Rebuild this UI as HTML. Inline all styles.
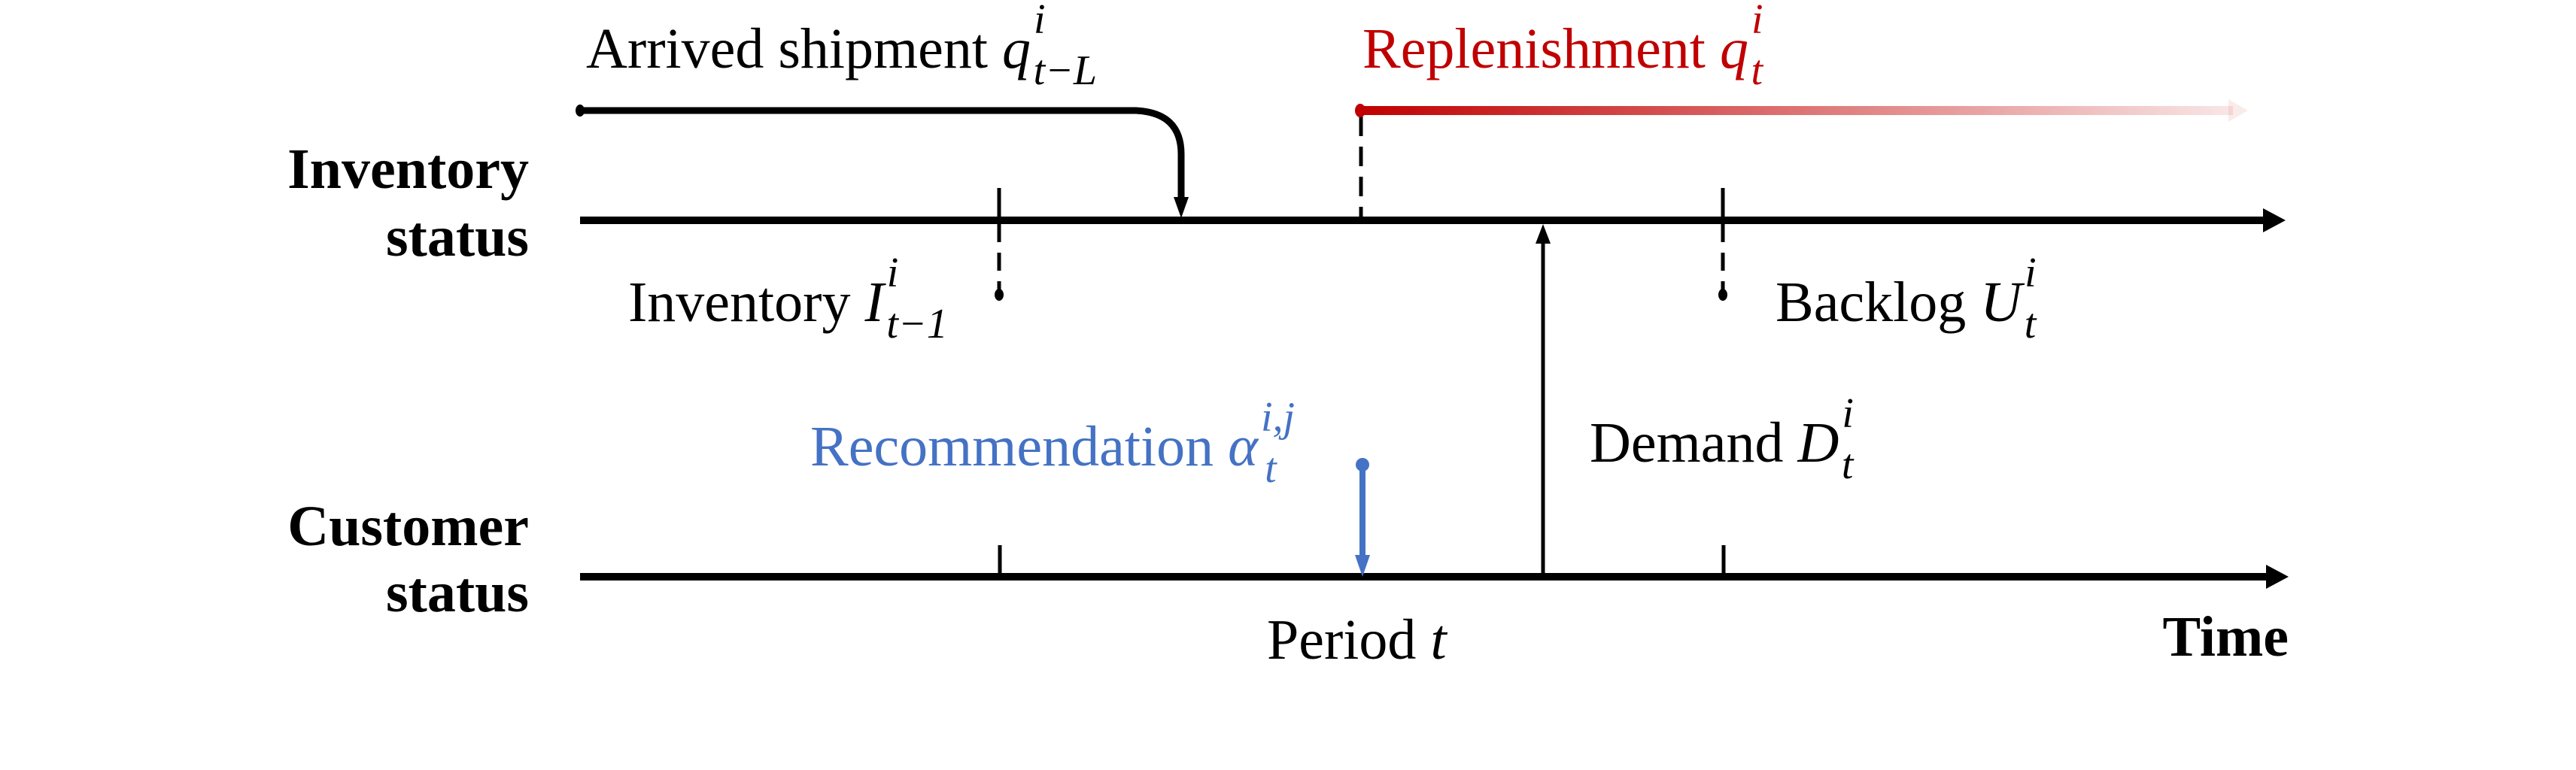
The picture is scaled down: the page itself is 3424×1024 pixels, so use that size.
<!DOCTYPE html>
<html><head><meta charset="utf-8"><style>
html,body{margin:0;padding:0;background:#fff;}
svg{display:block;}
text{font-family:"Liberation Serif",serif;font-size:76px;}
.b{font-weight:bold;}
.m{font-style:italic;}
.s{font-size:56px;font-style:italic;}
</style></head><body>
<svg width="3424" height="1024" viewBox="0 0 3424 1024" xmlns="http://www.w3.org/2000/svg">
<defs>
<linearGradient id="rg" x1="1808" y1="0" x2="2990" y2="0" gradientUnits="userSpaceOnUse">
<stop offset="0" stop-color="#C00000"/><stop offset="1" stop-color="#C00000" stop-opacity="0.08"/>
</linearGradient>
</defs>
<line x1="771" y1="293" x2="3012" y2="293" stroke="#000" stroke-width="10"/>
<polygon points="3038,293 3008,277 3008,309" fill="#000"/>
<line x1="771" y1="767" x2="3015" y2="767" stroke="#000" stroke-width="10"/>
<polygon points="3042,767 3012,751 3012,783" fill="#000"/>
<line x1="1328" y1="250" x2="1328" y2="293" stroke="#000" stroke-width="5"/>
<line x1="1328" y1="298" x2="1328" y2="392" stroke="#000" stroke-width="5" stroke-dasharray="24,14"/>
<ellipse cx="1328" cy="392" rx="6" ry="8" fill="#000"/>
<line x1="2290" y1="250" x2="2290" y2="293" stroke="#000" stroke-width="5"/>
<line x1="2290" y1="298" x2="2290" y2="392" stroke="#000" stroke-width="5" stroke-dasharray="24,14"/>
<ellipse cx="2290" cy="392" rx="6" ry="8" fill="#000"/>
<line x1="1329" y1="725" x2="1329" y2="767" stroke="#000" stroke-width="5"/>
<line x1="2291" y1="725" x2="2291" y2="767" stroke="#000" stroke-width="5"/>
<path d="M771,147 L1510,147 Q1570,150 1570,205 L1570,268" fill="none" stroke="#000" stroke-width="9"/>
<polygon points="1570,290 1560,262 1580,262" fill="#000"/>
<ellipse cx="771" cy="147" rx="6" ry="8" fill="#000"/>
<line x1="1809" y1="155" x2="1809" y2="288" stroke="#000" stroke-width="5" stroke-dasharray="26,14"/>
<rect x="1808" y="141" width="1160" height="12" fill="url(#rg)"/>
<polygon points="2988,147 2962,132 2962,162" fill="#C00000" fill-opacity="0.08"/>
<ellipse cx="1808" cy="147" rx="7" ry="9" fill="#C00000"/>
<line x1="2051" y1="767" x2="2051" y2="318" stroke="#000" stroke-width="5"/>
<polygon points="2051,298 2041,324 2061,324" fill="#000"/>
<line x1="1811" y1="612" x2="1811" y2="745" stroke="#4472C4" stroke-width="8"/>
<polygon points="1811,767 1801,738 1821,738" fill="#4472C4"/>
<circle cx="1811" cy="618" r="9" fill="#4472C4"/>
<text x="703" y="250" text-anchor="end" class="b">Inventory</text>
<text x="703" y="340" text-anchor="end" class="b">status</text>
<text x="703" y="725" text-anchor="end" class="b">Customer</text>
<text x="703" y="813" text-anchor="end" class="b">status</text>
<text x="3042" y="872" text-anchor="end" class="b">Time</text>
<text x="779" y="90">Arrived shipment <tspan class="m">q</tspan><tspan class="s" dx="4" dy="-46">i</tspan><tspan class="s" dx="-16" dy="68">t−L</tspan></text>
<text x="1811" y="90" fill="#C00000">Replenishment <tspan class="m">q</tspan><tspan class="s" dx="4" dy="-46">i</tspan><tspan class="s" dx="-16" dy="68">t</tspan></text>
<text x="835" y="427">Inventory <tspan class="m">I</tspan><tspan class="s" dx="4" dy="-46">i</tspan><tspan class="s" dx="-16" dy="68">t−1</tspan></text>
<text x="2360" y="427">Backlog <tspan class="m">U</tspan><tspan class="s" dx="4" dy="-46">i</tspan><tspan class="s" dx="-16" dy="68">t</tspan></text>
<text x="1077" y="619" fill="#4472C4">Recommendation <tspan class="m">α</tspan><tspan class="s" dx="4" dy="-46">i,j</tspan><tspan class="s" dx="-40" dy="68">t</tspan></text>
<text x="2113" y="614">Demand <tspan class="m">D</tspan><tspan class="s" dx="4" dy="-46">i</tspan><tspan class="s" dx="-16" dy="68">t</tspan></text>
<text x="1684" y="876">Period <tspan class="m">t</tspan></text>
</svg>
</body></html>
